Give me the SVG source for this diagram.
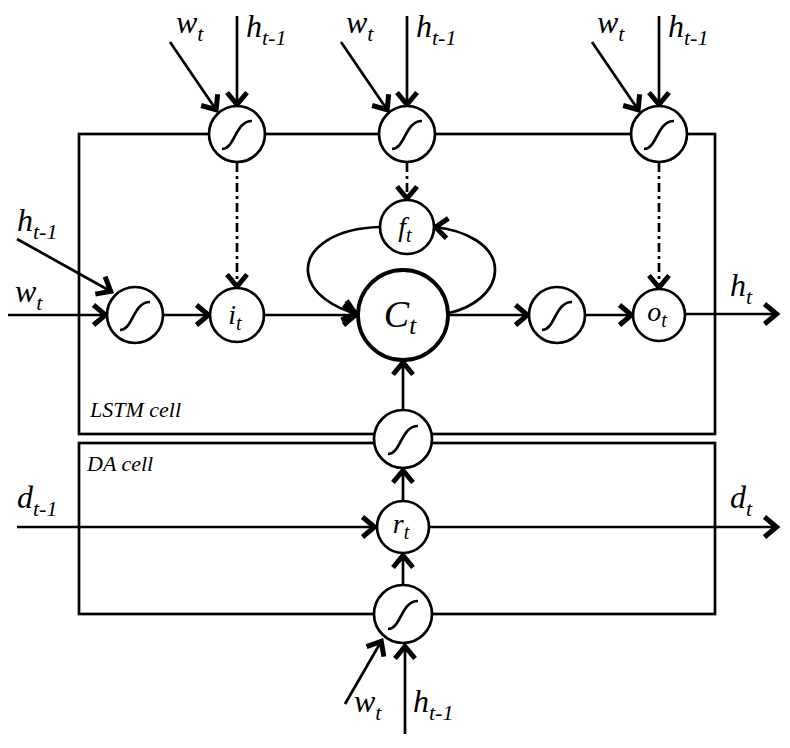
<svg xmlns="http://www.w3.org/2000/svg" width="790" height="748" viewBox="0 0 790 748">
<style>
.ln{fill:none;stroke:#000;stroke-width:2.7}
.ar{fill:none;stroke:#000;stroke-width:2.7;marker-end:url(#ah)}
.dd{fill:none;stroke:#000;stroke-width:2.7;stroke-dasharray:9 4 3 4;marker-end:url(#ah)}
.nd{fill:#fff;stroke:#000;stroke-width:2.7}
.big{fill:#fff;stroke:#000;stroke-width:3.8}
.sg{fill:none;stroke:#000;stroke-width:2.7}
</style>
<defs>
<marker id="ah" markerUnits="userSpaceOnUse" viewBox="-20 -15 26 30" markerWidth="26" markerHeight="30" refX="0" refY="0" orient="auto" overflow="visible">
<path d="M-13.5,-10 L-1.5,0 L-13.5,10" fill="none" stroke="#000" stroke-width="5" stroke-linejoin="miter"/>
</marker>
<path id="sig" d="M-15,15 C-2,15 -2,-13 15,-13" class="sg"/>
</defs>
<rect fill="#fff" x="0" y="0" width="790" height="748"/>
<g id="boxes">
<rect class="ln" x="79" y="134" width="636" height="300"/>
<rect class="ln" x="79" y="443" width="636" height="171"/>
<text x="90" y="417" font-family="Liberation Serif, serif" font-style="italic" font-size="22">LSTM cell</text>
<text x="87" y="471" font-family="Liberation Serif, serif" font-style="italic" font-size="22">DA cell</text>
</g>
<g id="connectors">
<line class="ar" x1="170" y1="42" x2="217" y2="111"/>
<line class="ar" x1="237" y1="16" x2="237" y2="106"/>
<line class="ar" x1="341" y1="42" x2="388" y2="111"/>
<line class="ar" x1="407" y1="16" x2="407" y2="106"/>
<line class="ar" x1="592" y1="42" x2="639" y2="111"/>
<line class="ar" x1="659" y1="16" x2="659" y2="106"/>
<line class="dd" x1="237" y1="163" x2="237" y2="288"/>
<line class="dd" x1="659" y1="163" x2="659" y2="289"/>
<line class="dd" x1="407" y1="163" x2="407" y2="200"/>
<line class="ar" x1="17" y1="239" x2="112" y2="292"/>
<line class="ar" x1="8" y1="315" x2="107" y2="315"/>
<line class="ar" x1="163" y1="315" x2="210" y2="315"/>
<line class="ar" x1="264" y1="315" x2="357" y2="315"/>
<line class="ar" x1="448" y1="315" x2="529" y2="315"/>
<line class="ar" x1="585" y1="315" x2="633" y2="315"/>
<line class="ar" x1="685" y1="314" x2="778" y2="314"/>
<path class="ar" d="M380,227 C335,228 306,248 308,272 C310,294 335,308 357,314"/>
<path class="ar" d="M449,313 C472,308 495,292 495,270 C495,245 465,230 434,227"/>
<line class="ar" x1="403" y1="410" x2="403" y2="361"/>
<line class="ar" x1="403" y1="501" x2="403" y2="469"/>
<line class="ar" x1="403" y1="585" x2="403" y2="554"/>
<line class="ar" x1="17" y1="527" x2="376" y2="527"/>
<line class="ar" x1="429" y1="527" x2="778" y2="527"/>
<line class="ar" x1="345" y1="704" x2="382" y2="640"/>
<line class="ar" x1="405" y1="734" x2="405" y2="645"/>
</g>
<g font-family="Liberation Serif, serif" font-style="italic">
<g id="sig-i-gate"><circle class="nd" cx="237" cy="134" r="28"/><use href="#sig" transform="translate(237,134)"/></g>
<g id="sig-f-gate"><circle class="nd" cx="407" cy="134" r="28"/><use href="#sig" transform="translate(407,134)"/></g>
<g id="sig-o-gate"><circle class="nd" cx="659" cy="134" r="28"/><use href="#sig" transform="translate(659,134)"/></g>
<g id="sig-in"><circle class="nd" cx="135" cy="315" r="28"/><use href="#sig" transform="translate(135,315)"/></g>
<g id="node-i"><circle class="nd" cx="237" cy="315" r="27"/><text x="235" y="324" font-size="28" text-anchor="middle">i<tspan font-size="20" dy="6">t</tspan></text></g>
<g id="node-f"><circle class="nd" cx="407" cy="227" r="27"/><text x="405" y="236" font-size="28" text-anchor="middle">f<tspan font-size="20" dy="6">t</tspan></text></g>
<g id="node-C"><circle class="big" cx="403" cy="315" r="45"/><text x="400" y="327" font-size="38" text-anchor="middle">C<tspan font-size="25" dy="7">t</tspan></text></g>
<g id="sig-out"><circle class="nd" cx="557" cy="315" r="28"/><use href="#sig" transform="translate(557,315)"/></g>
<g id="node-o"><circle class="nd" cx="659" cy="315" r="26"/><text x="657" y="321" font-size="28" text-anchor="middle">o<tspan font-size="20" dy="6">t</tspan></text></g>
<g id="sig-mid"><circle class="nd" cx="403" cy="439" r="29"/><use href="#sig" transform="translate(403,439)"/></g>
<g id="node-r"><circle class="nd" cx="403" cy="527" r="26"/><text x="401" y="533" font-size="28" text-anchor="middle">r<tspan font-size="20" dy="6">t</tspan></text></g>
<g id="sig-r"><circle class="nd" cx="403" cy="614" r="29"/><use href="#sig" transform="translate(403,614)"/></g>
<g id="labels" font-size="32">
<text x="176" y="33">w<tspan font-size="22" dy="8">t</tspan></text>
<text x="246" y="37">h<tspan font-size="22" dy="8">t-1</tspan></text>
<text x="346" y="33">w<tspan font-size="22" dy="8">t</tspan></text>
<text x="416" y="37">h<tspan font-size="22" dy="8">t-1</tspan></text>
<text x="597" y="33">w<tspan font-size="22" dy="8">t</tspan></text>
<text x="668" y="37">h<tspan font-size="22" dy="8">t-1</tspan></text>
<text x="17" y="231">h<tspan font-size="22" dy="8">t-1</tspan></text>
<text x="15" y="302">w<tspan font-size="22" dy="8">t</tspan></text>
<text x="730" y="296">h<tspan font-size="22" dy="8">t</tspan></text>
<text x="17" y="508">d<tspan font-size="22" dy="8">t-1</tspan></text>
<text x="730" y="508">d<tspan font-size="22" dy="8">t</tspan></text>
<text x="354" y="712">w<tspan font-size="22" dy="8">t</tspan></text>
<text x="413" y="712">h<tspan font-size="22" dy="8">t-1</tspan></text>
</g>
</g>
</svg>
